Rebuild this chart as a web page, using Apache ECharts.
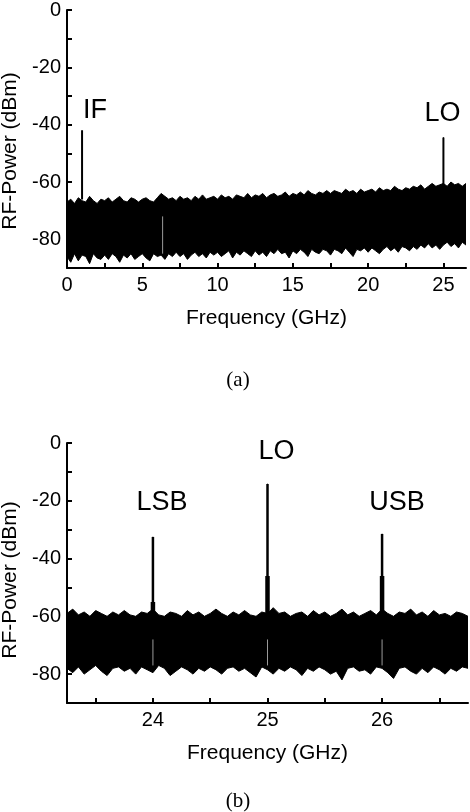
<!DOCTYPE html>
<html>
<head>
<meta charset="utf-8">
<script src="https://cdn.jsdelivr.net/npm/echarts@6/dist/echarts.min.js"></script>
<style>
html,body{margin:0;padding:0;background:#fff;}
#chart{width:470px;height:812px;}
</style>
</head>
<body>
<div id="chart"></div>
<script>
// ---------- Panel (a): 0 - 26.5 GHz ----------
const freqA = [0,0.25,0.5,0.75,1,1.25,1.5,1.75,2,2.25,
  2.5,2.75,3,3.25,3.5,3.75,4,4.25,4.5,4.75,
  5,5.25,5.5,5.75,6,6.25,6.5,6.75,7,7.25,
  7.5,7.75,8,8.25,8.5,8.75,9,9.25,9.5,9.75,
  10,10.25,10.5,10.75,11,11.25,11.5,11.75,12,12.25,
  12.5,12.75,13,13.25,13.5,13.75,14,14.25,14.5,14.75,
  15,15.25,15.5,15.75,16,16.25,16.5,16.75,17,17.25,
  17.5,17.75,18,18.25,18.5,18.75,19,19.25,19.5,19.75,
  20,20.25,20.5,20.75,21,21.25,21.5,21.75,22,22.25,
  22.5,22.75,23,23.25,23.5,23.75,24,24.25,24.5,24.75,
  25,25.25,25.5,25.75,26,26.25,26.5];
const noiseTopA = [-67,-66,-67.5,-65.5,-66.5,-67,-65,-66.5,-67.5,-66,
  -66.5,-65.5,-67,-66,-65,-66.5,-67,-65.5,-66,-67,
  -66,-65.5,-66.5,-67,-65.5,-64,-65,-66,-65.5,-66.5,
  -65,-66,-65.5,-66.5,-65,-66,-64.5,-66,-65.5,-65,
  -66,-64.5,-65.5,-65,-66,-64.5,-65,-65.5,-64,-65.5,
  -64.5,-65,-64,-65.5,-64.5,-64,-65,-64.5,-63.5,-65,
  -64,-64.5,-63.5,-64.5,-63,-64,-64.5,-63.5,-64,-63,
  -64,-63,-63.5,-64,-62.5,-63.5,-63,-64,-62.5,-63.5,
  -63,-62.5,-63.5,-62,-63,-62.5,-63,-61.5,-62.5,-63,
  -62,-62.5,-61.5,-62,-61,-62.5,-61.5,-60.5,-61.5,-61,
  -60.5,-61.5,-60,-61,-60.5,-61.5,-60.5];
const noiseBottomA = [-86,-88,-85,-87.5,-85.5,-86,-88.5,-85,-86.5,-87,
  -85.5,-87,-85,-86,-88,-85.5,-86.5,-85,-87,-86,
  -85,-86.5,-87.5,-85,-86,-85.5,-87,-85,-86,-84.5,
  -86,-85,-87,-85.5,-84.5,-86,-85,-86.5,-84.5,-85.5,
  -84.5,-86,-85,-84,-86.5,-84.5,-85.5,-84,-85,-86,
  -84,-85.5,-84.5,-86,-84,-85,-83.5,-85,-84.5,-86.5,
  -84,-85,-83.5,-84.5,-86,-83.5,-84.5,-85,-83.5,-84,
  -85.5,-83.5,-84,-85,-83,-84.5,-86,-83.5,-84,-83,
  -84.5,-83,-84,-85,-83.5,-82.5,-84,-83,-84.5,-82.5,
  -83,-84,-82.5,-83.5,-82,-83,-81.5,-83,-82,-83.5,
  -82,-81,-82.5,-81.5,-83,-81,-82];
const peakNamesA = ['IF', 'LO'];
const peakFreqA  = [1, 25];
const peakPowerA = [-42, -44.5];
// faint trace inside the noise (light streak)
const streakFreqA = [6.35];
const streakTopA  = [-72];
const streakBotA  = [-85];

// ---------- Panel (b): 23.25 - 26.75 GHz ----------
const freqB = [23.25,23.3,23.35,23.4,23.45,23.5,23.55,23.6,23.65,23.7,
  23.75,23.8,23.85,23.9,23.95,24,24.05,24.1,24.15,24.2,
  24.25,24.3,24.35,24.4,24.45,24.5,24.55,24.6,24.65,24.7,
  24.75,24.8,24.85,24.9,24.95,25,25.05,25.1,25.15,25.2,
  25.25,25.3,25.35,25.4,25.45,25.5,25.55,25.6,25.65,25.7,
  25.75,25.8,25.85,25.9,25.95,26,26.05,26.1,26.15,26.2,
  26.25,26.3,26.35,26.4,26.45,26.5,26.55,26.6,26.65,26.7,26.75];
const noiseTopB = [-59,-57.5,-59.5,-58.5,-60,-58,-59,-60,-58.5,-59.5,
  -58,-59.5,-60,-58.5,-59,-57.5,-59.5,-60,-58.5,-59,
  -60,-58,-59.5,-58.5,-60,-59,-57.5,-59,-60,-58.5,
  -59.5,-58,-59.5,-60,-58.5,-59,-57,-59,-58.5,-60,
  -59,-58.5,-60,-58,-59.5,-58.5,-60,-59,-57.5,-59.5,
  -58.5,-60,-59,-58,-59.5,-57.5,-59,-60,-58.5,-59,
  -57.5,-59.5,-58.5,-60,-58,-59.5,-59,-60,-58.5,-59,-60];
const noiseBottomB = [-78,-79.5,-77.5,-80,-78.5,-77,-79,-80.5,-78,-77.5,
  -79,-78,-80,-77.5,-78.5,-79.5,-77,-78,-80.5,-79,
  -77.5,-78.5,-80,-78,-79,-77.5,-78.5,-80,-78,-77.5,
  -79,-78,-79.5,-81,-77.5,-78.5,-80,-78,-79,-77.5,
  -78.5,-80.5,-78,-79,-77.5,-78.5,-80,-79,-82,-78,
  -77.5,-79,-78.5,-80,-77.5,-78,-79.5,-81.5,-78,-77.5,
  -79,-80,-78,-79.5,-77.5,-78.5,-80,-78,-79,-77.5,-78];
const peakNamesB = ['LSB', 'LO', 'USB'];
const peakFreqB  = [24, 25, 26];
const peakPowerB = [-32.5, -14.2, -31.5];
const peakShoulderB = [-55, -46, -46];   // where each spike widens near its base
const streakTopB  = [-68, -68, -68];
const streakBotB  = [-77, -77, -77];

// ---------- tick values ----------
const yTicks  = [-90,-80,-70,-60,-50,-40,-30,-20,-10,0];
const yLabels = [-80,-60,-40,-20,0];
const xTicksA  = [0,2.5,5,7.5,10,12.5,15,17.5,20,22.5,25];
const xLabelsA = [0,5,10,15,20,25];
const xTicksB  = [23.5,24,24.5,25,25.5,26,26.5];
const xLabelsB = [24,25,26];

// annotation text placement (pixel offsets for labels only)
const labelStyleA = [{dx:13, dist:6}, {dx:-1, dist:10}];
const labelStyleB = [{dx:9, dist:20}, {dx:9, dist:18}, {dx:15, dist:17}];

const FONT = 'Liberation Sans, Arial, Helvetica, sans-serif';
const BLACK = '#000';

function xAxisCfg(gridIndex, min, max, ticks, labels) {
  return {
    type: 'value', gridIndex, min, max, z: 10,
    axisLine: {show: true, onZero: false, lineStyle: {color: BLACK, width: 2}},
    axisTick: {show: true, inside: true, length: 5, customValues: ticks, lineStyle: {color: BLACK, width: 2}},
    axisLabel: {show: true, customValues: labels, margin: 7, color: BLACK, fontFamily: FONT, fontSize: 20},
    splitLine: {show: false},
    name: 'Frequency (GHz)', nameLocation: 'middle', nameGap: 40,
    nameTextStyle: {color: BLACK, fontFamily: FONT, fontSize: 21}
  };
}
function yAxisCfg(gridIndex) {
  return {
    type: 'value', gridIndex, min: -90, max: 0, z: 10,
    axisLine: {show: true, onZero: false, lineStyle: {color: BLACK, width: 2}},
    axisTick: {show: true, inside: true, length: 5, customValues: yTicks, lineStyle: {color: BLACK, width: 2}},
    axisLabel: {show: true, customValues: yLabels, margin: 6, color: BLACK, fontFamily: FONT, fontSize: 20},
    splitLine: {show: false}
  };
}

// noise band: upper envelope filled black down to axis start, lower envelope filled white over it
function bandSeries(idx, freq, top, bottom) {
  return [
    {
      type: 'line', xAxisIndex: idx, yAxisIndex: idx,
      data: freq.map((f, i) => [f, top[i]]),
      symbol: 'none', lineStyle: {color: BLACK, width: 1},
      areaStyle: {color: BLACK, opacity: 1, origin: 'start'}, silent: true, z: 2
    },
    {
      type: 'line', xAxisIndex: idx, yAxisIndex: idx,
      data: freq.map((f, i) => [f, bottom[i]]),
      symbol: 'none', lineStyle: {color: BLACK, width: 1},
      areaStyle: {color: '#fff', opacity: 1, origin: 'start'}, silent: true, z: 3
    }
  ];
}

function streakSeries(idx, freqs, tops, bots) {
  return freqs.map((f, i) => ({
    type: 'line', xAxisIndex: idx, yAxisIndex: idx, symbol: 'none', silent: true, z: 4,
    lineStyle: {color: '#9a9a9a', width: 1},
    data: [[f, bots[i]], [f, tops[i]]]
  }));
}

function peakSeries(idx, names, freqs, powers, styles, width) {
  return names.map((name, i) => ({
    type: 'line', xAxisIndex: idx, yAxisIndex: idx,
    symbol: 'circle', symbolSize: 1, showSymbol: true,
    itemStyle: {color: BLACK},
    lineStyle: {color: BLACK, width: width}, z: 5, silent: true,
    data: [
      [freqs[i], -66],
      {
        value: [freqs[i], powers[i]],
        label: {
          show: true, formatter: name, position: 'top',
          distance: styles[i].dist, offset: [styles[i].dx, 0],
          color: BLACK, fontFamily: FONT, fontSize: 27
        }
      }
    ]
  }));
}

function shoulderSeries(idx, freqs, shoulders) {
  return freqs.map((f, i) => ({
    type: 'line', xAxisIndex: idx, yAxisIndex: idx, symbol: 'none', silent: true, z: 5,
    lineStyle: {color: BLACK, width: 4.5},
    data: [[f, -60], [f, shoulders[i]]]
  }));
}

const chart = echarts.init(document.getElementById('chart'), null, {renderer: 'canvas'});
chart.setOption({
  animation: false,
  backgroundColor: '#fff',
  grid: [
    {left: 67, top: 9, width: 399, height: 259},
    {left: 67, top: 443, width: 401, height: 260}
  ],
  xAxis: [
    xAxisCfg(0, 0, 26.5, xTicksA, xLabelsA),
    xAxisCfg(1, 23.25, 26.75, xTicksB, xLabelsB)
  ],
  yAxis: [yAxisCfg(0), yAxisCfg(1)],
  series: [
    ...bandSeries(0, freqA, noiseTopA, noiseBottomA),
    ...bandSeries(1, freqB, noiseTopB, noiseBottomB),
    ...streakSeries(0, streakFreqA, streakTopA, streakBotA),
    ...streakSeries(1, peakFreqB, streakTopB, streakBotB),
    ...peakSeries(0, peakNamesA, peakFreqA, peakPowerA, labelStyleA, 2),
    ...peakSeries(1, peakNamesB, peakFreqB, peakPowerB, labelStyleB, 2.5),
    ...shoulderSeries(1, peakFreqB, peakShoulderB)
  ],
  graphic: [
    {type: 'text', x: 10, y: 151, rotation: Math.PI / 2,
     style: {text: 'RF-Power (dBm)', fill: BLACK, font: '21px ' + FONT, align: 'center', verticalAlign: 'middle'}},
    {type: 'text', x: 10, y: 580, rotation: Math.PI / 2,
     style: {text: 'RF-Power (dBm)', fill: BLACK, font: '21px ' + FONT, align: 'center', verticalAlign: 'middle'}},
    {type: 'text', x: 238, y: 380,
     style: {text: '(a)', fill: BLACK, font: '21px Liberation Serif, Times New Roman, serif', align: 'center', verticalAlign: 'middle'}},
    {type: 'text', x: 238, y: 801,
     style: {text: '(b)', fill: BLACK, font: '21px Liberation Serif, Times New Roman, serif', align: 'center', verticalAlign: 'middle'}}
  ]
});
</script>
</body>
</html>
